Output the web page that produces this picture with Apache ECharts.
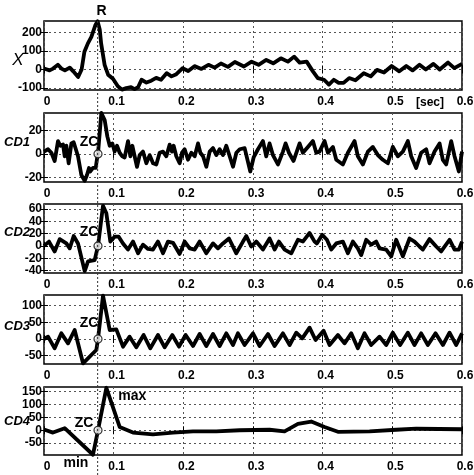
<!DOCTYPE html>
<html><head><meta charset="utf-8">
<script src="https://cdn.jsdelivr.net/npm/echarts@6/dist/echarts.min.js"></script>
<style>html,body{margin:0;padding:0;background:#fff}#c{width:474px;height:475px}</style>
</head><body><div id="c"></div>
<script>
// ---- data ----
const xTicks = [0, 0.1, 0.2, 0.3, 0.4, 0.5, 0.6];
const panelNames = ['X', 'CD1', 'CD2', 'CD3', 'CD4'];
const yTicksX = [-100, 0, 100, 200];
const yTicksCD1 = [-20, 0, 20];
const yTicksCD2 = [-40, -20, 0, 20, 40, 60];
const yTicksCD3 = [-50, 0, 50, 100];
const yTicksCD4 = [-50, 0, 50, 100, 150];
const yRangeX = [-110, 260];
const yRangeCD1 = [-24, 35];
const yRangeCD2 = [-44, 68];
const yRangeCD3 = [-75, 132];
const yRangeCD4 = [-96, 168];
const rTime = 0.077;      // R peak / zero crossing time
const zcTime = 0.0775;
const rPoint = [0.077, 258];
const maxPoint = [0.0895, 165];
const minPoint = [0.0703, -95];

const sigX = [[0,5],[0.008,-5],[0.013,5],[0.020,25],[0.025,5],[0.030,-5],[0.037,10],[0.042,-10],[0.049,-40],[0.054,0],[0.058,95],[0.063,140],[0.068,175],[0.074,240],[0.077,258],[0.080,215],[0.082,140],[0.087,25],[0.092,-28],[0.099,-50],[0.106,-90],[0.112,-108],[0.118,-100],[0.125,-95],[0.130,-105],[0.135,-95],[0.140,-55],[0.147,-70],[0.154,-60],[0.161,-45],[0.168,-55],[0.176,-20],[0.183,-37],[0.190,-25],[0.199,7],[0.207,-8],[0.216,18],[0.226,3],[0.236,25],[0.245,10],[0.254,32],[0.264,14],[0.274,40],[0.287,16],[0.298,42],[0.308,25],[0.319,51],[0.329,33],[0.340,60],[0.350,42],[0.359,69],[0.367,37],[0.377,42],[0.386,-10],[0.393,-46],[0.402,-55],[0.409,-81],[0.416,-55],[0.423,-72],[0.430,-72],[0.438,-46],[0.447,-58],[0.459,-20],[0.469,-37],[0.478,-2],[0.488,-16],[0.499,19],[0.510,-10],[0.520,19],[0.529,-5],[0.539,25],[0.548,0],[0.559,30],[0.568,0],[0.580,37],[0.589,7],[0.600,30]];

const sigCD1 = [[0,2],[0.0058,4],[0.0106,1],[0.0153,-6],[0.0201,11],[0.0234,7],[0.0273,8],[0.0297,-2],[0.0321,7],[0.0354,-8],[0.0393,9],[0.0426,10],[0.0488,-2],[0.0536,-18],[0.0584,-23],[0.0617,-18],[0.0646,-12],[0.0665,-15],[0.0703,-12],[0.0742,-12],[0.0766,-2],[0.0775,0],[0.0823,35],[0.0871,29],[0.0909,15],[0.0943,7],[0.0981,9],[0.1014,2],[0.1048,7],[0.1086,1],[0.1124,-2],[0.1158,-3],[0.1206,11],[0.1239,-2],[0.1268,7],[0.1301,-2],[0.1335,-11],[0.1373,-1],[0.1421,2],[0.1469,-8],[0.1517,-1],[0.1565,-8],[0.1612,-9],[0.1660,1],[0.1708,2],[0.1756,-2],[0.1804,8],[0.1837,2],[0.1861,7],[0.1899,-2],[0.1947,-8],[0.1981,1],[0.2019,4],[0.2067,-5],[0.2115,1],[0.2163,-2],[0.2211,9],[0.2244,1],[0.2283,-2],[0.2330,-11],[0.2378,2],[0.2426,5],[0.2474,-1],[0.2521,4],[0.2569,-1],[0.2617,7],[0.2665,-2],[0.2713,-11],[0.2761,1],[0.2809,4],[0.2880,5],[0.2961,-15],[0.3009,-3],[0.3071,4],[0.3143,11],[0.3190,-2],[0.3238,9],[0.3286,-1],[0.3358,-9],[0.3430,2],[0.3468,9],[0.3516,1],[0.3582,-6],[0.3669,9],[0.3716,1],[0.3788,6],[0.3860,11],[0.3908,1],[0.3955,2],[0.4027,11],[0.4075,1],[0.4147,6],[0.4195,-5],[0.4290,-9],[0.4362,1],[0.4458,11],[0.4505,-2],[0.4577,-9],[0.4649,2],[0.4720,6],[0.4792,-1],[0.4864,-5],[0.4936,-8],[0.5007,6],[0.5079,-2],[0.5151,2],[0.5223,11],[0.5271,-2],[0.5342,-12],[0.5414,1],[0.5486,4],[0.5534,-8],[0.5606,2],[0.5678,9],[0.5725,-5],[0.5773,-9],[0.5845,11],[0.5893,-2],[0.5955,-15],[0.6000,2]];

const sigCD2 = [[0,0],[0.0072,7],[0.0153,-9],[0.0225,11],[0.0321,4],[0.0369,-4],[0.0426,16],[0.0488,4],[0.0584,-41],[0.0632,-25],[0.0727,-23],[0.0775,0],[0.0847,65],[0.0895,53],[0.0952,7],[0.1014,15],[0.1072,15],[0.1134,4],[0.1206,-6],[0.1278,7],[0.1350,-12],[0.1421,2],[0.1493,-5],[0.1565,-6],[0.1636,7],[0.1708,-12],[0.1780,7],[0.1852,5],[0.1947,-13],[0.2019,7],[0.2091,-4],[0.2163,-6],[0.2234,7],[0.2330,-12],[0.2426,4],[0.2497,-4],[0.2569,4],[0.2655,12],[0.2760,-12],[0.2856,7],[0.2904,16],[0.2975,-1],[0.3047,7],[0.3143,-6],[0.3238,12],[0.3310,-6],[0.3372,7],[0.3454,-6],[0.3549,-12],[0.3645,10],[0.3716,7],[0.3812,21],[0.3884,7],[0.3917,4],[0.3994,18],[0.4061,10],[0.4123,-6],[0.4195,4],[0.4290,7],[0.4362,-12],[0.4434,7],[0.4505,-4],[0.4553,-15],[0.4625,10],[0.4697,2],[0.4768,7],[0.4816,-4],[0.4912,-6],[0.4984,-17],[0.5055,10],[0.5151,-17],[0.5247,12],[0.5318,7],[0.5390,-1],[0.5438,-6],[0.5534,11],[0.5630,-1],[0.5701,-9],[0.5821,10],[0.5893,-6],[0.5955,-6],[0.6000,7]];

const sigCD3 = [[0,0],[0.0058,7],[0.0153,-28],[0.0249,17],[0.0345,-13],[0.0440,27],[0.0560,-73],[0.0751,-33],[0.0775,0],[0.0847,130],[0.0943,27],[0.1038,29],[0.1134,-23],[0.1229,7],[0.1325,-25],[0.1430,12],[0.1526,-28],[0.1636,12],[0.1732,-25],[0.1842,12],[0.1938,-23],[0.2033,12],[0.2139,-21],[0.2234,15],[0.2330,-21],[0.2426,15],[0.2521,-21],[0.2617,17],[0.2713,-18],[0.2784,17],[0.2880,-18],[0.3000,17],[0.3095,-21],[0.3215,15],[0.3310,-21],[0.3430,17],[0.3526,-18],[0.3621,19],[0.3707,2],[0.3812,34],[0.3898,-3],[0.4013,25],[0.4099,-18],[0.4219,12],[0.4314,-13],[0.4410,17],[0.4505,-28],[0.4601,17],[0.4696,-18],[0.4816,7],[0.4912,-18],[0.5007,19],[0.5112,-18],[0.5222,19],[0.5318,-18],[0.5414,17],[0.5510,-18],[0.5620,17],[0.5726,-18],[0.5821,19],[0.5917,-18],[0.6000,17]];

const sigCD4 = [[0,3],[0.0129,-9],[0.0297,8],[0.0703,-95],[0.0775,0],[0.0895,165],[0.1086,13],[0.1277,-9],[0.1564,-16],[0.1851,-9],[0.2138,-4],[0.2473,-4],[0.2808,0],[0.3238,2],[0.3453,-4],[0.3645,25],[0.3836,34],[0.4027,13],[0.4219,-6],[0.4673,-4],[0.5055,2],[0.5342,6],[0.6000,4]];

// ---- layout ----
const FONT = 'Liberation Sans, Arial, sans-serif';
const signals = [sigX, sigCD1, sigCD2, sigCD3, sigCD4];
const yTicks = [yTicksX, yTicksCD1, yTicksCD2, yTicksCD3, yTicksCD4];
const yRanges = [yRangeX, yRangeCD1, yRangeCD2, yRangeCD3, yRangeCD4];
const gridTops = [21, 113, 204, 295, 387];
const gridHeights = [69, 69, 69, 69, 68];
const zcOffsets = [null, [-9, -12], [-9, -14], [-9, -16], [-14, -7]];
const nameYs = [60, 142, 232, 326, 421];

const grids = [], xAxes = [], yAxes = [], series = [];
const N = 5;
for (let i = 0; i < N; i++) {
  grids.push({left: 44, right: 12, top: gridTops[i], height: gridHeights[i],
    show: true, borderColor: '#000', borderWidth: 1.5, backgroundColor: 'transparent',
    outerBoundsMode: 'none'});
}
for (let i = 0; i < N; i++) {
  xAxes.push({type: 'value', gridIndex: i, min: 0, max: 0.6, interval: 0.1,
    axisLine: {show: false},
    axisTick: {show: true, inside: true, length: 4, lineStyle: {color: '#000'}},
    axisLabel: {show: true, margin: 6, fontFamily: FONT, fontWeight: 'bold', fontSize: 12, color: '#000',
      padding: [0, 0, 0, 6], formatter: v => String(+v.toFixed(1)), showMaxLabel: true, showMinLabel: true},
    splitLine: {show: true, lineStyle: {type: [2, 3], color: '#555', width: 1}}});
}
for (let i = 0; i < N; i++) {
  xAxes.push({type: 'value', gridIndex: i, min: 0, max: 0.6, interval: 0.1, position: 'top',
    axisLine: {show: false}, axisLabel: {show: false}, splitLine: {show: false},
    axisTick: {show: true, inside: true, length: 4, lineStyle: {color: '#000'}}});
}
for (let i = 0; i < N; i++) {
  yAxes.push({type: 'value', gridIndex: i, min: yRanges[i][0], max: yRanges[i][1],
    axisLine: {show: false},
    axisTick: {show: true, inside: true, length: 4, customValues: yTicks[i], lineStyle: {color: '#000'}},
    axisLabel: {show: true, margin: 2, customValues: yTicks[i], fontFamily: FONT, fontWeight: 'bold', fontSize: 12, color: '#000'},
    splitLine: {show: true, lineStyle: {type: [2, 3], color: '#555', width: 1}}});
}
for (let i = 0; i < N; i++) {
  yAxes.push({type: 'value', gridIndex: i, min: yRanges[i][0], max: yRanges[i][1], position: 'right',
    axisLine: {show: false}, axisLabel: {show: false}, splitLine: {show: false},
    axisTick: {show: true, inside: true, length: 4, customValues: yTicks[i], lineStyle: {color: '#000'}}});
}
for (let i = 0; i < N; i++) {
  series.push({type: 'line', xAxisIndex: i, yAxisIndex: i, data: signals[i], symbol: 'none',
    lineStyle: {color: '#000', width: 3.8, join: 'round'}, z: 3, animation: false});
  if (i > 0) {
    series.push({type: 'scatter', xAxisIndex: i, yAxisIndex: i, data: [[zcTime, 0]],
      symbol: 'circle', symbolSize: 8, z: 5, animation: false,
      itemStyle: {color: '#fff', borderColor: '#000', borderWidth: 1.2}});
  }
}

const chart = echarts.init(document.getElementById('c'), null, {renderer: 'canvas'});
chart.setOption({animation: false, backgroundColor: '#fff', grid: grids, xAxis: xAxes, yAxis: yAxes, series: series});

const px = chart.convertToPixel({gridIndex: 0}, [rTime, 0])[0];
const txt = (x, y, s, font, z) => ({type: 'text', x: x, y: y, z: z || 10,
  style: {text: s, fill: '#000', font: font, align: 'center', verticalAlign: 'middle'}});
const gfx = [
  {type: 'line', shape: {x1: px, y1: 21, x2: px, y2: 475}, z: 10,
   style: {stroke: '#333', lineWidth: 1, lineDash: [2, 2]}},
  txt(430, 103, '[sec]', 'bold 12px ' + FONT)
];
// ZC labels placed relative to zero-crossing points
for (let i = 1; i < N; i++) {
  const p = chart.convertToPixel({gridIndex: i}, [zcTime, 0]);
  gfx.push(txt(p[0] + zcOffsets[i][0], p[1] + zcOffsets[i][1], 'ZC', 'bold 14px ' + FONT));
}
const pR = chart.convertToPixel({gridIndex: 0}, rPoint);
gfx.push(txt(pR[0] + 4, pR[1] - 10, 'R', 'bold 14px ' + FONT));
const pMax = chart.convertToPixel({gridIndex: 4}, maxPoint);
gfx.push(txt(pMax[0] + 26, pMax[1] + 8, 'max', 'bold 14px ' + FONT));
const pMin = chart.convertToPixel({gridIndex: 4}, minPoint);
gfx.push(txt(pMin[0] - 17, pMin[1] + 8, 'min', 'bold 14px ' + FONT));
panelNames.forEach((n, i) => {
  gfx.push(txt(i === 0 ? 18 : 17, nameYs[i], n, (i === 0 ? 'italic 17px ' : 'italic bold 13px ') + FONT));
});
chart.setOption({graphic: gfx});
</script>
</body></html>
